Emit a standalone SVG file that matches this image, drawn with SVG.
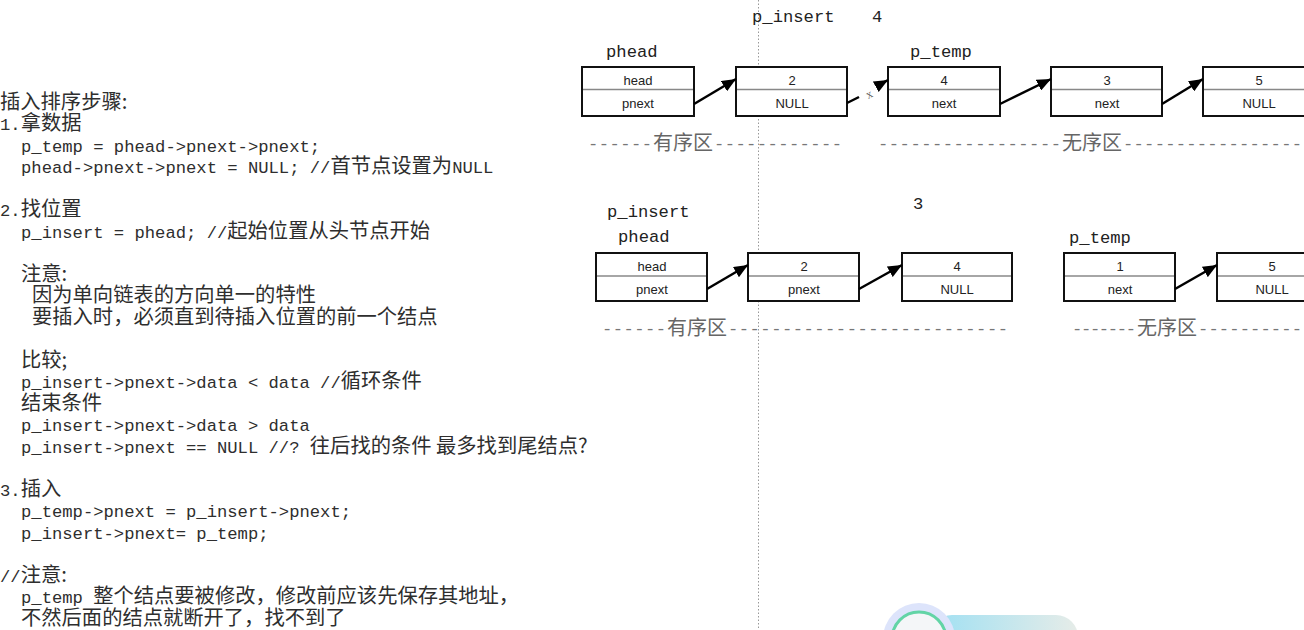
<svg xmlns="http://www.w3.org/2000/svg" width="1304" height="630" viewBox="0 0 1304 630">
<defs>
<style>
.t{font-family:"Liberation Mono","Noto Sans CJK SC",monospace;font-size:17.2px;fill:#2e2e2e}
.c{font-family:"Noto Sans CJK SC",sans-serif;font-size:20.3px}
.lbl{font-family:"Liberation Mono","Noto Sans CJK SC",monospace;font-size:17.2px;fill:#222}
.box{fill:#fff;stroke:#111;stroke-width:2}
.div{stroke:#888;stroke-width:1.5}
.bt{font-family:"Liberation Sans",Arial,sans-serif;font-size:13px;fill:#222;text-anchor:middle}
.dash{font-family:"Liberation Mono",monospace;font-size:17.2px;fill:#777}
.zone{font-family:"Noto Sans CJK SC",sans-serif;font-size:20px;fill:#666}
.arr{stroke:#000;stroke-width:2.5;fill:none;marker-end:url(#ah)}
</style>
<marker id="ah" markerUnits="userSpaceOnUse" markerWidth="14" markerHeight="12" refX="14" refY="6" orient="auto">
<path d="M0,0 L14,6 L0,12 z" fill="#000"/>
</marker>
<linearGradient id="pill" x1="0" y1="0" x2="1" y2="0">
<stop offset="0" stop-color="#9fe0f3"/>
<stop offset="1" stop-color="#e6ece8"/>
</linearGradient>
</defs>
<rect width="1304" height="630" fill="#fff"/>

<!-- left notes -->
<g id="notes">
<text class="t" x="0" y="108.5"><tspan class="c">插入排序步骤:</tspan></text>
<text class="t" x="0" y="130">1.<tspan class="c">拿数据</tspan></text>
<text class="t" x="21" y="151.5">p_temp = phead-&gt;pnext-&gt;pnext;</text>
<text class="t" x="21" y="173">phead-&gt;pnext-&gt;pnext = NULL; //<tspan class="c">首节点设置为</tspan>NULL</text>
<text class="t" x="0" y="216">2.<tspan class="c">找位置</tspan></text>
<text class="t" x="21" y="237.5">p_insert = phead; //<tspan class="c">起始位置从头节点开始</tspan></text>
<text class="t" x="21" y="280.5"><tspan class="c">注意:</tspan></text>
<text class="t" x="32" y="302"><tspan class="c">因为单向链表的方向单一的特性</tspan></text>
<text class="t" x="32" y="323.5"><tspan class="c">要插入时，必须直到待插入位置的前一个结点</tspan></text>
<text class="t" x="21" y="366.5"><tspan class="c">比较;</tspan></text>
<text class="t" x="21" y="388">p_insert-&gt;pnext-&gt;data &lt; data //<tspan class="c">循环条件</tspan></text>
<text class="t" x="21" y="409.5"><tspan class="c">结束条件</tspan></text>
<text class="t" x="21" y="431">p_insert-&gt;pnext-&gt;data &gt; data</text>
<text class="t" x="21" y="452.5">p_insert-&gt;pnext == NULL //? <tspan class="c">往后找的条件 最多找到尾结点?</tspan></text>
<text class="t" x="0" y="495.5">3.<tspan class="c">插入</tspan></text>
<text class="t" x="21" y="517">p_temp-&gt;pnext = p_insert-&gt;pnext;</text>
<text class="t" x="21" y="538.5">p_insert-&gt;pnext= p_temp;</text>
<text class="t" x="0" y="581.5">//<tspan class="c">注意:</tspan></text>
<text class="t" x="21" y="603">p_temp <tspan class="c">整个结点要被修改，修改前应该先保存其地址，</tspan></text>
<text class="t" x="21" y="624.5"><tspan class="c">不然后面的结点就断开了，找不到了</tspan></text>
</g>

<!-- divider -->
<line x1="758.5" y1="0" x2="758.5" y2="630" stroke="#999" stroke-width="1" stroke-dasharray="1.5,2"/>

<!-- row 1 labels -->
<g id="labels1">
<text class="lbl" x="752" y="22">p_insert</text>
<text class="lbl" x="872" y="22">4</text>
<text class="lbl" x="606" y="57">phead</text>
<text class="lbl" x="910" y="57">p_temp</text>
</g>

<!-- row 1 nodes -->
<g id="r1n1"><rect class="box" x="582" y="67" width="112" height="49"/><line class="div" x1="583" y1="89.5" x2="693" y2="89.5"/><text class="bt" x="638" y="84.5">head</text><text class="bt" x="638" y="107.5">pnext</text></g>
<g id="r1n2"><rect class="box" x="736" y="67" width="111" height="49"/><line class="div" x1="737" y1="89.5" x2="846" y2="89.5"/><text class="bt" x="792" y="84.5">2</text><text class="bt" x="792" y="107.5">NULL</text></g>
<g id="r1n3"><rect class="box" x="888" y="67" width="112" height="49"/><line class="div" x1="889" y1="89.5" x2="999" y2="89.5"/><text class="bt" x="944" y="84.5">4</text><text class="bt" x="944" y="107.5">next</text></g>
<g id="r1n4"><rect class="box" x="1051" y="67" width="111" height="49"/><line class="div" x1="1052" y1="89.5" x2="1161" y2="89.5"/><text class="bt" x="1107" y="84.5">3</text><text class="bt" x="1107" y="107.5">next</text></g>
<g id="r1n5"><rect class="box" x="1203" y="67" width="112" height="49"/><line class="div" x1="1204" y1="89.5" x2="1314" y2="89.5"/><text class="bt" x="1259" y="84.5">5</text><text class="bt" x="1259" y="107.5">NULL</text></g>

<!-- row 1 zones -->
<g id="zones1">
<text class="dash" x="588" y="149" textLength="64" lengthAdjust="spacing">------</text>
<text class="zone" x="653" y="150">有序区</text>
<text class="dash" x="714" y="149" textLength="128" lengthAdjust="spacing">------------</text>
<text class="dash" x="878" y="149" textLength="183" lengthAdjust="spacing">-----------------</text>
<text class="zone" x="1062" y="150">无序区</text>
<text class="dash" x="1123" y="149" textLength="179" lengthAdjust="spacing">-----------------</text>
</g>

<!-- row 2 labels -->
<g id="labels2">
<text class="lbl" x="607" y="217">p_insert</text>
<text class="lbl" x="618" y="242">phead</text>
<text class="lbl" x="913" y="209">3</text>
<text class="lbl" x="1069" y="243">p_temp</text>
</g>

<!-- row 2 nodes -->
<g id="r2n1"><rect class="box" x="596" y="253" width="111" height="48"/><line class="div" x1="597" y1="276" x2="706" y2="276"/><text class="bt" x="652" y="270.5">head</text><text class="bt" x="652" y="293.5">pnext</text></g>
<g id="r2n2"><rect class="box" x="748" y="253" width="111" height="48"/><line class="div" x1="749" y1="276" x2="858" y2="276"/><text class="bt" x="804" y="270.5">2</text><text class="bt" x="804" y="293.5">pnext</text></g>
<g id="r2n3"><rect class="box" x="902" y="253" width="110" height="48"/><line class="div" x1="903" y1="276" x2="1011" y2="276"/><text class="bt" x="957" y="270.5">4</text><text class="bt" x="957" y="293.5">NULL</text></g>
<g id="r2n4"><rect class="box" x="1064" y="253" width="111" height="48"/><line class="div" x1="1065" y1="276" x2="1174" y2="276"/><text class="bt" x="1120" y="270.5">1</text><text class="bt" x="1120" y="293.5">next</text></g>
<g id="r2n5"><rect class="box" x="1217" y="253" width="111" height="48"/><line class="div" x1="1218" y1="276" x2="1327" y2="276"/><text class="bt" x="1272" y="270.5">5</text><text class="bt" x="1272" y="293.5">NULL</text></g>

<!-- row 2 zones -->
<g id="zones2">
<text class="dash" x="602" y="334" textLength="64" lengthAdjust="spacing">------</text>
<text class="zone" x="667" y="335">有序区</text>
<text class="dash" x="728" y="334" textLength="280" lengthAdjust="spacing">--------------------------</text>
<text class="dash" x="1072" y="334" textLength="64" lengthAdjust="spacing">-------</text>
<text class="zone" x="1137" y="335">无序区</text>
<text class="dash" x="1198" y="334" textLength="104" lengthAdjust="spacing">----------</text>
</g>

<!-- connectors -->
<g id="connectors">
<line class="arr" x1="694" y1="104" x2="736" y2="79"/>
<line x1="847" y1="103" x2="859" y2="97" stroke="#000" stroke-width="2.5"/>
<text x="866" y="98" font-family="Liberation Serif,serif" font-size="12" fill="#555" transform="rotate(-28 869 94)">x</text>
<line class="arr" x1="878" y1="85.5" x2="888" y2="80"/>
<line class="arr" x1="1000" y1="104" x2="1051" y2="79"/>
<line class="arr" x1="1162" y1="104" x2="1203" y2="79"/>
<line class="arr" x1="707" y1="289" x2="748" y2="265"/>
<line class="arr" x1="859" y1="289" x2="902" y2="265"/>
<line class="arr" x1="1175" y1="289" x2="1217" y2="265"/>
</g>

<!-- floating widget -->
<g id="widget">
<rect x="930" y="615" width="148" height="44" rx="22" fill="url(#pill)"/>
<circle cx="919" cy="639" r="36" fill="#dde4fb"/>
<circle cx="919" cy="639" r="27" fill="#f4f6f8" stroke="#62d4a6" stroke-width="3"/>
</g>
</svg>
